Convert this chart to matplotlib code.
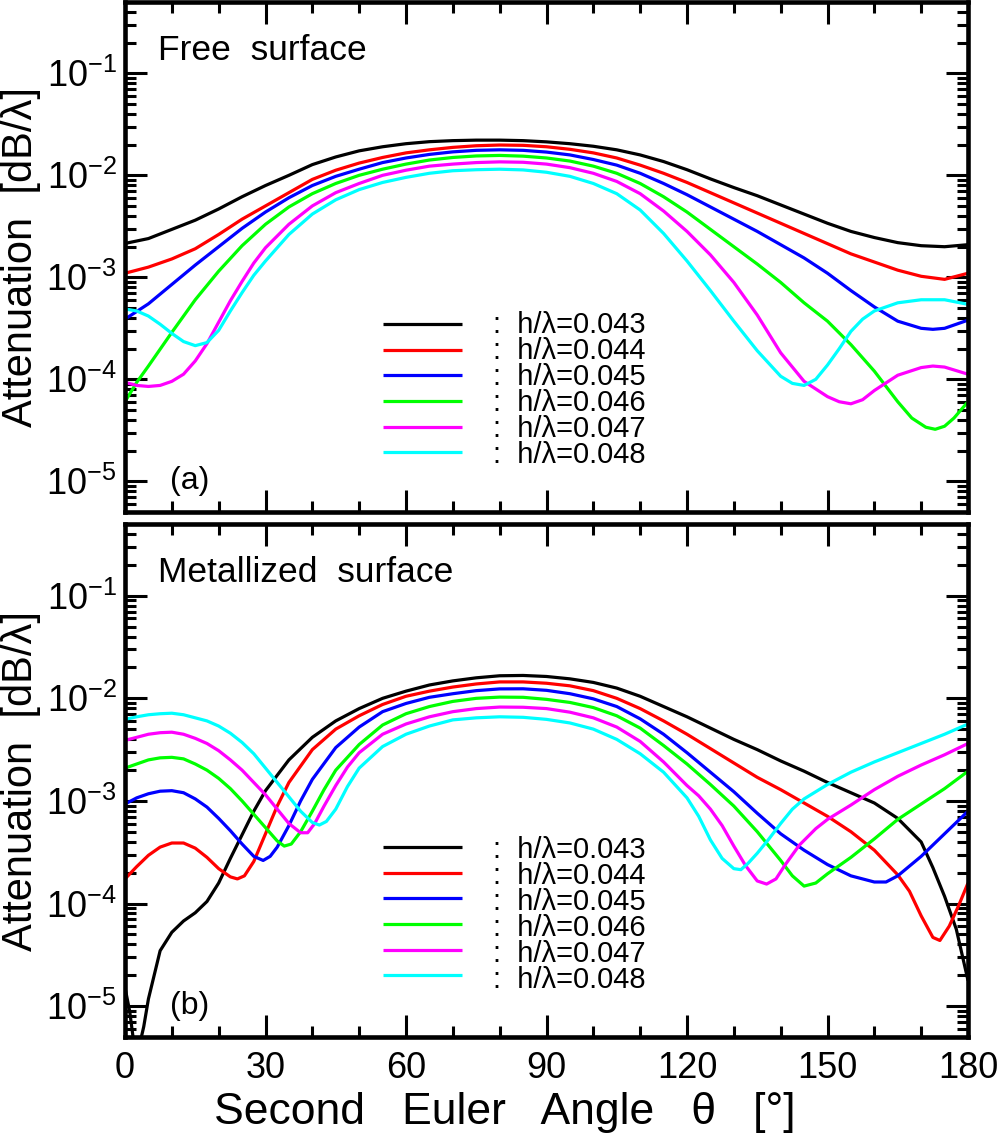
import numpy as np
import matplotlib
matplotlib.use("Agg")
import matplotlib.pyplot as plt
from matplotlib.ticker import LogLocator, MultipleLocator, NullFormatter

plt.rcParams["font.family"] = ["Liberation Sans", "DejaVu Sans"]
plt.rcParams["mathtext.fontset"] = "custom"
plt.rcParams["mathtext.rm"] = "Liberation Sans"
plt.rcParams["mathtext.it"] = "Liberation Sans:italic"

# h/lambda values and line colours
LABELS = [":  h/\u03bb=0.043", ":  h/\u03bb=0.044", ":  h/\u03bb=0.045",
          ":  h/\u03bb=0.046", ":  h/\u03bb=0.047", ":  h/\u03bb=0.048"]
COLORS = ["#000000", "#ff0000", "#0000ff", "#00ff00", "#ff00ff", "#00ffff"]

# ---- (a) free surface: theta [deg] and log10(attenuation [dB/lambda]) ----
FREE_T_043 = [0, 5, 10, 15, 20, 25, 30, 35, 40, 45, 50, 55, 60, 65, 70, 75, 80, 85, 90, 95, 100,
              105, 110, 115, 120, 125, 130, 135, 140, 145, 150, 155, 160, 165, 170, 175, 180]
FREE_V_043 = [-2.668, -2.62, -2.53, -2.44, -2.33, -2.21, -2.10, -2.00, -1.895, -1.82, -1.76, -1.72,
              -1.69, -1.67, -1.66, -1.655, -1.655, -1.66, -1.672, -1.69, -1.715, -1.75, -1.80, -1.865,
              -1.945, -2.035, -2.12, -2.20, -2.29, -2.38, -2.47, -2.55, -2.61, -2.66, -2.69, -2.70, -2.68]

FREE_T_044 = FREE_T_043
FREE_V_044 = [-2.96, -2.90, -2.82, -2.72, -2.58, -2.43, -2.30, -2.17, -2.04, -1.95, -1.88, -1.825,
              -1.78, -1.75, -1.726, -1.71, -1.703, -1.706, -1.72, -1.745, -1.78, -1.83, -1.90, -1.98,
              -2.07, -2.17, -2.27, -2.37, -2.47, -2.57, -2.67, -2.77, -2.85, -2.93, -2.99, -3.02, -2.96]

FREE_T_045 = [0, 5, 10, 15, 20, 25, 30, 35, 40, 45, 50, 55, 60, 65, 70, 75, 80, 85, 90, 95, 100,
              105, 110, 115, 120, 125, 130, 135, 140, 145, 150, 155, 160, 165, 170, 172.5, 175, 180]
FREE_V_045 = [-3.41, -3.26, -3.07, -2.88, -2.70, -2.52, -2.36, -2.22, -2.10, -2.01, -1.94, -1.875,
              -1.83, -1.795, -1.77, -1.755, -1.75, -1.755, -1.772, -1.80, -1.845, -1.90, -1.98, -2.08,
              -2.19, -2.31, -2.43, -2.55, -2.68, -2.81, -2.96, -3.13, -3.29, -3.43, -3.50, -3.51,
              -3.50, -3.42]

FREE_T_046 = [0, 2.5, 5, 10, 15, 20, 25, 30, 35, 40, 45, 50, 55, 60, 65, 70, 75, 80, 85, 90, 95,
              100, 105, 110, 115, 120, 125, 130, 135, 140, 145, 150, 155, 160, 165, 168, 171, 173,
              175, 177, 180]
FREE_V_046 = [-4.22, -4.03, -3.87, -3.54, -3.22, -2.94, -2.69, -2.48, -2.31, -2.18, -2.08, -2.00,
              -1.94, -1.89, -1.85, -1.825, -1.81, -1.805, -1.812, -1.83, -1.86, -1.91, -1.98, -2.08,
              -2.21, -2.36, -2.53, -2.70, -2.87, -3.05, -3.25, -3.43, -3.66, -3.92, -4.22, -4.38,
              -4.47, -4.49, -4.46, -4.38, -4.22]

FREE_T_047 = [0, 2.5, 5, 7.5, 10, 12.5, 15, 17.5, 20, 22.5, 25, 27.5, 30, 35, 40, 45, 50, 55, 60,
              65, 70, 75, 80, 85, 90, 95, 100, 105, 110, 115, 120, 125, 130, 135, 140, 145, 150,
              152.5, 155, 157.5, 160, 165, 170, 172.5, 175, 180]
FREE_V_047 = [-4.03, -4.06, -4.07, -4.06, -4.02, -3.95, -3.82, -3.65, -3.44, -3.23, -3.04, -2.86,
              -2.71, -2.48, -2.30, -2.17, -2.08, -2.00, -1.95, -1.91, -1.89, -1.875, -1.868, -1.872,
              -1.89, -1.925, -1.98, -2.06, -2.18, -2.35, -2.55, -2.78, -3.05, -3.37, -3.74, -4.02,
              -4.17, -4.22, -4.24, -4.20, -4.11, -3.96, -3.885, -3.87, -3.88, -3.95]

FREE_T_048 = [0, 2.5, 5, 7.5, 10, 12.5, 15, 17.5, 20, 22.5, 25, 27.5, 30, 35, 40, 45, 50, 55, 60,
              65, 70, 75, 80, 85, 90, 95, 100, 105, 110, 115, 120, 125, 130, 135, 140, 142.5, 145,
              147.5, 150, 152.5, 155, 157.5, 160, 165, 170, 175, 180]
FREE_V_048 = [-3.31, -3.33, -3.38, -3.46, -3.55, -3.63, -3.67, -3.64, -3.52, -3.33, -3.15, -2.98,
              -2.84, -2.58, -2.38, -2.24, -2.14, -2.07, -2.02, -1.98, -1.955, -1.945, -1.94, -1.947,
              -1.97, -2.01, -2.08, -2.18, -2.34, -2.57, -2.84, -3.13, -3.43, -3.72, -3.97, -4.04,
              -4.06, -4.00, -3.86, -3.70, -3.53, -3.41, -3.33, -3.25, -3.22, -3.22, -3.265]

# ---- (b) metallized surface ----
MET_T_043 = [0, 1, 2, 3, 4, 5, 7.5, 10, 12.5, 15, 17.5, 20, 22.5, 25, 27.5, 30, 35, 40, 45, 50,
             55, 60, 65, 70, 75, 80, 85, 90, 95, 100, 105, 110, 115, 120, 125, 130, 135, 140, 145,
             150, 155, 160, 165, 170, 172.5, 175, 177.5, 180]
MET_V_043 = [-4.82, -5.05, -5.4, -5.4, -5.2, -4.93, -4.46, -4.28, -4.17, -4.09, -3.98, -3.80,
             -3.56, -3.33, -3.10, -2.90, -2.60, -2.38, -2.22, -2.10, -2.00, -1.93, -1.87, -1.83,
             -1.80, -1.78, -1.777, -1.787, -1.81, -1.845, -1.90, -1.98, -2.08, -2.18, -2.29,
             -2.40, -2.50, -2.61, -2.71, -2.82, -2.92, -3.02, -3.17, -3.40, -3.65, -3.93, -4.25,
             -4.75]

MET_T_044 = [0, 2.5, 5, 7.5, 10, 12.5, 15, 17.5, 20, 22.5, 24, 25.5, 27.5, 30, 32.5, 35, 40, 45,
             50, 55, 60, 65, 70, 75, 80, 85, 90, 95, 100, 105, 110, 115, 120, 125, 130, 135, 140,
             145, 150, 155, 160, 165, 167.5, 170, 172.5, 174, 176, 178, 180]
MET_V_044 = [-3.76, -3.64, -3.53, -3.45, -3.41, -3.41, -3.46, -3.55, -3.66, -3.74, -3.76, -3.73,
             -3.59, -3.32, -3.05, -2.82, -2.50, -2.30, -2.17, -2.06, -1.98, -1.93, -1.89, -1.86,
             -1.84, -1.84, -1.853, -1.878, -1.925, -2.00, -2.10, -2.22, -2.35, -2.49, -2.63, -2.77,
             -2.89, -3.02, -3.15, -3.30, -3.48, -3.72, -3.88, -4.12, -4.33, -4.36, -4.22, -4.02,
             -3.80]

MET_T_045 = [0, 2.5, 5, 7.5, 10, 12.5, 15, 17.5, 20, 22.5, 25, 27.5, 29.5, 31, 32.5, 35, 37.5,
             40, 45, 50, 55, 60, 65, 70, 75, 80, 85, 90, 95, 100, 105, 110, 115, 120, 125, 130,
             135, 140, 145, 150, 155, 160, 162.5, 165, 170, 175, 180]
MET_V_045 = [-3.03, -2.97, -2.93, -2.905, -2.90, -2.92, -2.98, -3.06, -3.17, -3.29, -3.42, -3.54,
             -3.58, -3.54, -3.45, -3.24, -3.00, -2.79, -2.48, -2.28, -2.13, -2.05, -1.99, -1.955,
             -1.925, -1.908, -1.907, -1.922, -1.955, -2.005, -2.08, -2.20, -2.35, -2.53, -2.72,
             -2.91, -3.12, -3.32, -3.48, -3.62, -3.73, -3.79, -3.79, -3.73, -3.54, -3.32, -3.10]

MET_T_046 = [0, 2.5, 5, 7.5, 10, 12.5, 15, 17.5, 20, 22.5, 25, 27.5, 30, 32.5, 34, 35.5, 37.5,
             40, 42.5, 45, 50, 55, 60, 65, 70, 75, 80, 85, 90, 95, 100, 105, 110, 115, 120, 125,
             130, 135, 140, 142.5, 145, 147.5, 150, 155, 160, 165, 170, 175, 180]
MET_V_046 = [-2.68, -2.64, -2.60, -2.58, -2.575, -2.59, -2.64, -2.70, -2.78, -2.88, -3.00, -3.13,
             -3.26, -3.39, -3.44, -3.42, -3.30, -3.10, -2.89, -2.70, -2.45, -2.26, -2.15, -2.08,
             -2.03, -2.00, -1.988, -1.99, -2.01, -2.04, -2.09, -2.17, -2.29, -2.46, -2.64, -2.84,
             -3.05, -3.30, -3.58, -3.73, -3.83, -3.80, -3.71, -3.55, -3.37, -3.18, -3.03, -2.88,
             -2.71]

MET_T_047 = [0, 2.5, 5, 7.5, 10, 12.5, 15, 17.5, 20, 22.5, 25, 27.5, 30, 32.5, 35, 37.5, 39,
             40.5, 42.5, 45, 47.5, 50, 55, 60, 65, 70, 75, 80, 85, 90, 95, 100, 105, 110, 115,
             120, 122.5, 125, 127.5, 130, 132.5, 135, 137, 139, 141, 144, 147.5, 150, 155, 160,
             165, 170, 175, 180]
MET_V_047 = [-2.41, -2.38, -2.35, -2.335, -2.33, -2.35, -2.39, -2.44, -2.51, -2.60, -2.70, -2.82,
             -2.94, -3.08, -3.22, -3.31, -3.31, -3.22, -3.05, -2.85, -2.67, -2.53, -2.35, -2.25,
             -2.18, -2.13, -2.10, -2.085, -2.087, -2.10, -2.135, -2.19, -2.28, -2.42, -2.62,
             -2.85, -2.95, -3.08, -3.24, -3.44, -3.63, -3.78, -3.81, -3.76, -3.62, -3.43, -3.27,
             -3.18, -3.04, -2.89, -2.76, -2.65, -2.55, -2.44]

MET_T_048 = [0, 2.5, 5, 7.5, 10, 12.5, 15, 17.5, 20, 22.5, 25, 27.5, 30, 32.5, 35, 37.5, 40,
             41.5, 43, 45, 47.5, 50, 55, 60, 65, 70, 75, 80, 85, 90, 95, 100, 105, 110, 115, 120,
             122.5, 125, 127.5, 130, 131.5, 133, 135, 137.5, 140, 142.5, 145, 150, 155, 160, 165,
             170, 175, 180]
MET_V_048 = [-2.205, -2.18, -2.16, -2.15, -2.145, -2.16, -2.19, -2.22, -2.27, -2.34, -2.43, -2.54,
             -2.68, -2.82, -2.96, -3.10, -3.21, -3.235, -3.20, -3.08, -2.86, -2.68, -2.47, -2.35,
             -2.27, -2.21, -2.19, -2.18, -2.185, -2.205, -2.24, -2.30, -2.40, -2.54, -2.72, -2.97,
             -3.15, -3.38, -3.56, -3.66, -3.67, -3.61, -3.51, -3.37, -3.22, -3.08, -2.98, -2.84,
             -2.72, -2.62, -2.53, -2.44, -2.35, -2.25]

FREE_T = [FREE_T_043, FREE_T_044, FREE_T_045, FREE_T_046, FREE_T_047, FREE_T_048]
FREE_V = [FREE_V_043, FREE_V_044, FREE_V_045, FREE_V_046, FREE_V_047, FREE_V_048]
MET_T = [MET_T_043, MET_T_044, MET_T_045, MET_T_046, MET_T_047, MET_T_048]
MET_V = [MET_V_043, MET_V_044, MET_V_045, MET_V_046, MET_V_047, MET_V_048]

YLABEL = "Attenuation  [dB/\u03bb]"
XLABEL = "Second   Euler   Angle   \u03b8   [\u00b0]"


def draw_panel(ax, thetas, logvals, title, tag, key_y, text_y):
    lines = []
    for t, v, c in zip(thetas, logvals, COLORS):
        ln, = ax.plot(t, 10.0 ** np.asarray(v), color=c, lw=2.3,
                      solid_joinstyle="round", solid_capstyle="butt")
        lines.append(ln)
    ax.set_yscale("log")
    ax.set_xlim(0, 180)
    ax.set_ylim(5e-6, 0.5)
    ax.xaxis.set_major_locator(MultipleLocator(30))
    ax.xaxis.set_minor_locator(MultipleLocator(10))
    ax.yaxis.set_major_locator(LogLocator(base=10, numticks=12))
    ax.yaxis.set_minor_locator(LogLocator(base=10, subs=np.arange(2, 10), numticks=12))
    ax.yaxis.set_minor_formatter(NullFormatter())
    ax.tick_params(which="both", direction="in", top=True, right=True, width=2.2)
    ax.tick_params(which="major", length=16, labelsize=26)
    ax.tick_params(which="minor", length=8)
    ax.tick_params(axis="x", pad=10)
    ax.tick_params(axis="y", pad=6)
    for s in ax.spines.values():
        s.set_linewidth(3.3)
    ax.set_ylabel(YLABEL, fontsize=30)
    ax.yaxis.set_label_coords(-0.0996, 0.5)
    ax.text(0.039, 0.905, title, transform=ax.transAxes, fontsize=25.5, va="center")
    ax.text(0.053, 0.06, tag, transform=ax.transAxes, fontsize=23, va="center")
    # line samples of the key, labels are written as one text block beside them
    ax.legend(lines, [""] * len(lines), loc="center left", bbox_to_anchor=(0.306, key_y),
              frameon=False, fontsize=19, handlelength=3.0, handletextpad=0.2,
              labelspacing=0.063, borderpad=0, borderaxespad=0)
    ax.text(0.4365, text_y, "\n".join(LABELS), transform=ax.transAxes, fontsize=21,
            ha="left", va="center", linespacing=0.912)


fig = plt.figure(figsize=(10, 11.33), dpi=100)
ax1 = fig.add_axes([0.125, 0.5481, 0.843, 0.4501])
ax2 = fig.add_axes([0.125, 0.0847, 0.843, 0.4528])

draw_panel(ax1, FREE_T, FREE_V, "Free  surface", "(a)", 0.2384, 0.2396)
draw_panel(ax2, MET_T, MET_V, "Metallized  surface", "(b)", 0.2411, 0.2382)
ax1.tick_params(axis="x", labelbottom=False)
ax2.set_xlabel(XLABEL, fontsize=32)
ax2.xaxis.set_label_coords(0.45, -0.107)

fig.savefig("out.png", dpi=100)
